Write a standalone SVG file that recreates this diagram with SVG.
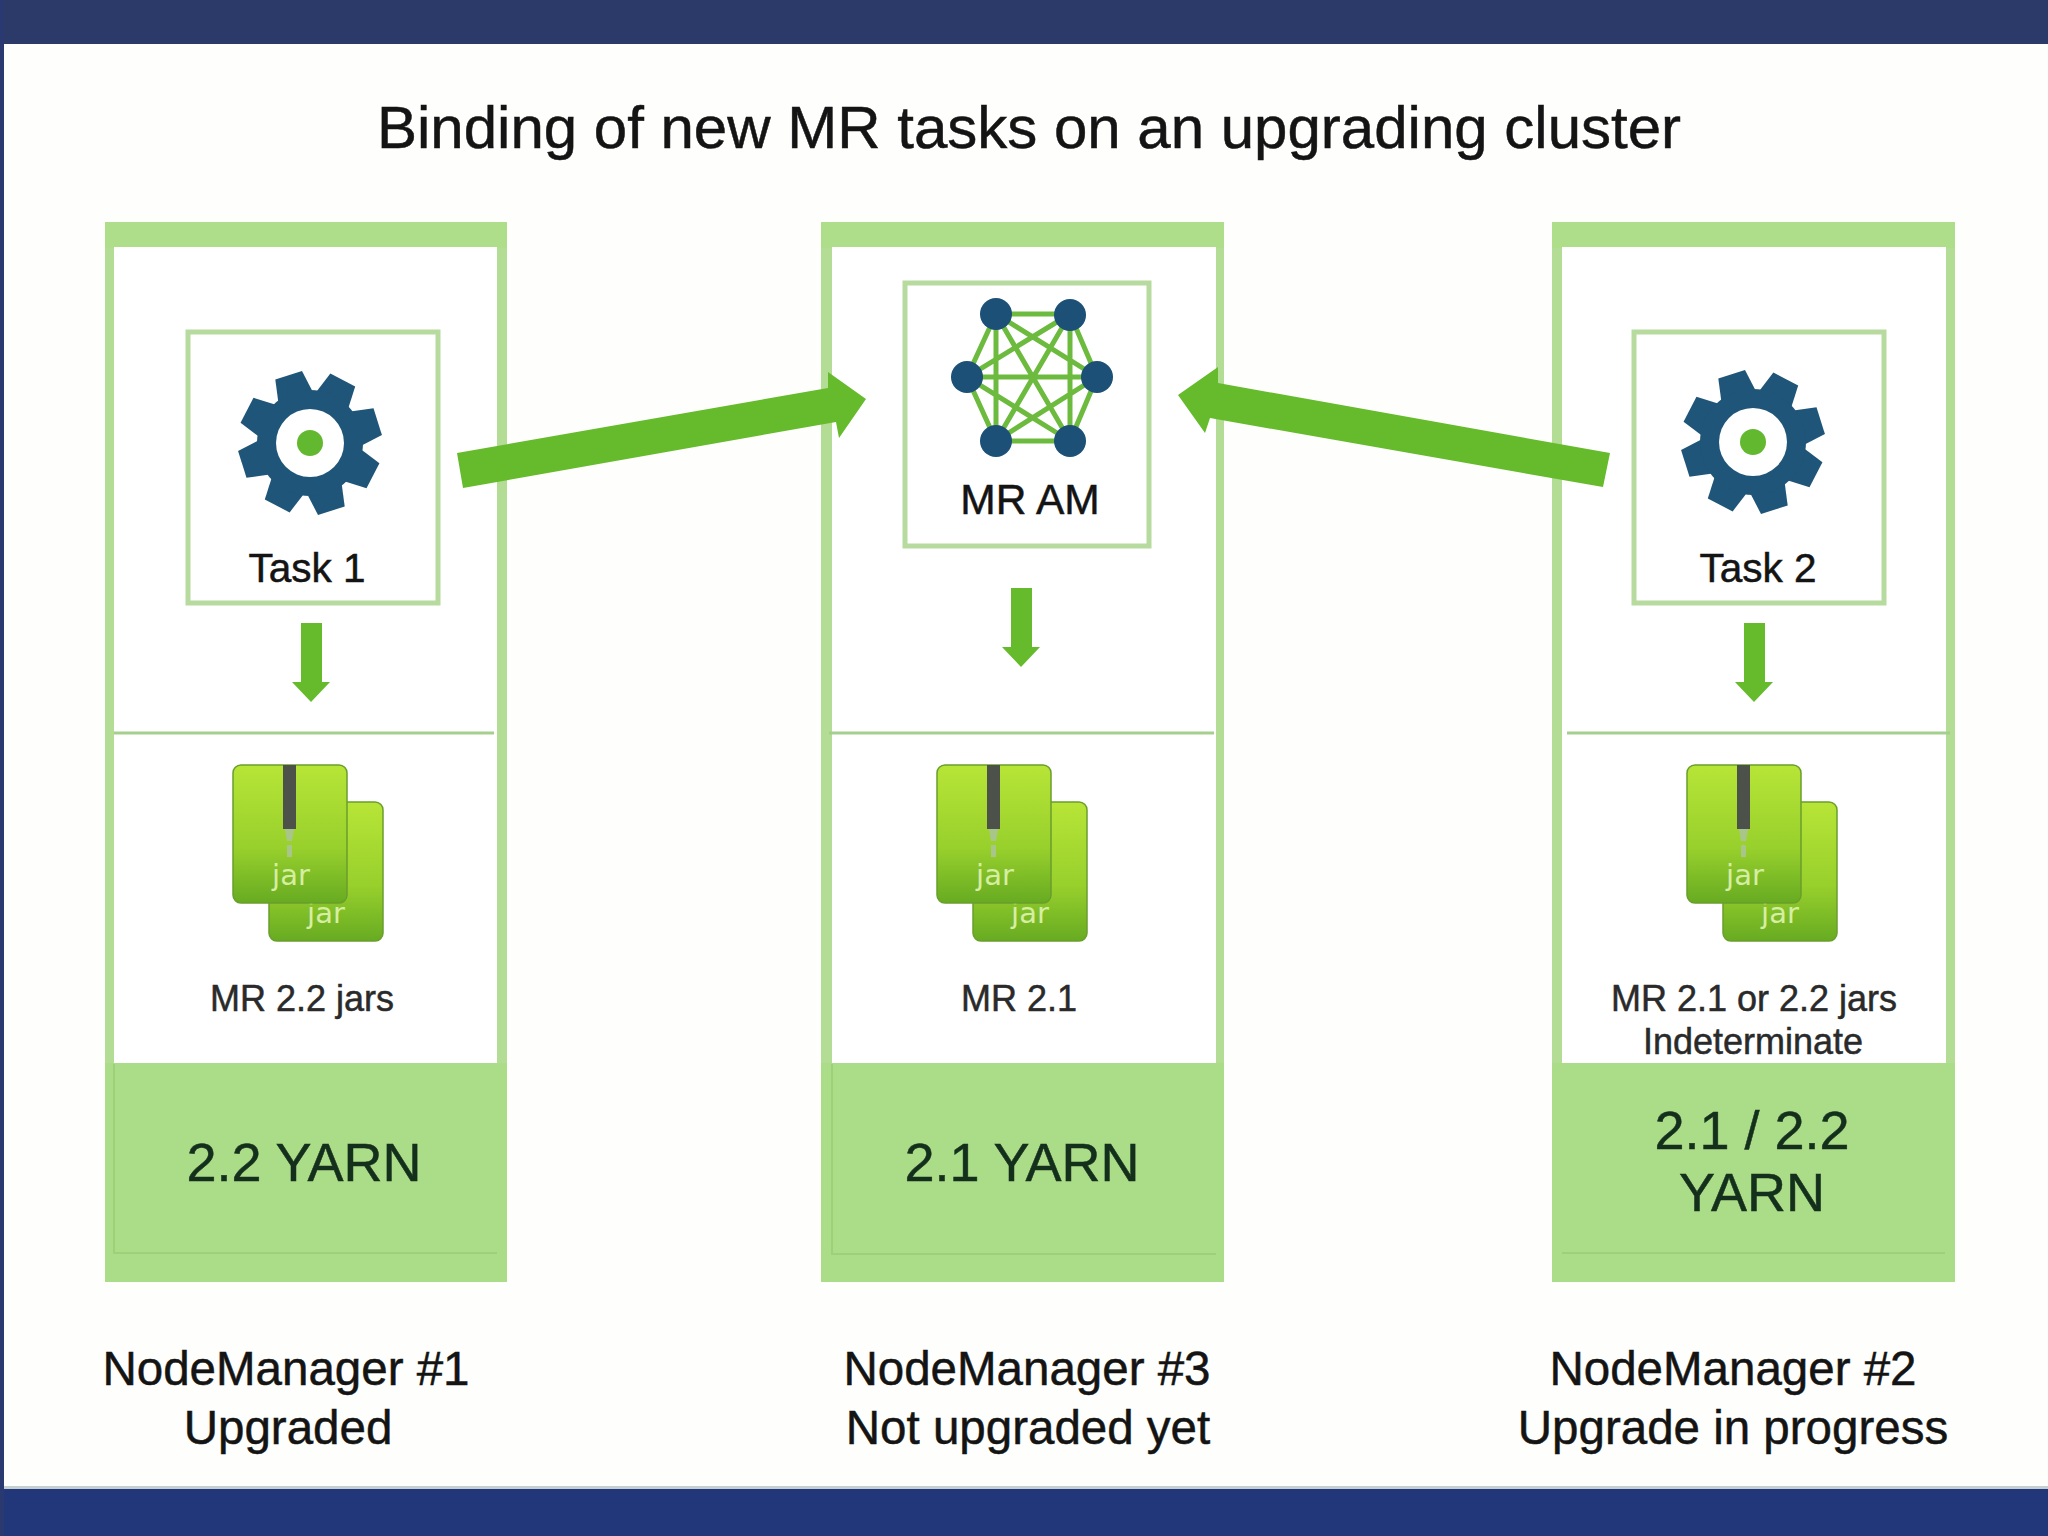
<svg xmlns="http://www.w3.org/2000/svg" xmlns:xlink="http://www.w3.org/1999/xlink" width="2048" height="1536" viewBox="0 0 2048 1536">
<style>
text{font-family:"Liberation Sans",Arial,sans-serif;fill:#141414;text-anchor:middle;stroke:#141414;stroke-width:.5}
.frame{fill:#b3dd94}
.top{fill:#aede8a}
.inner{fill:#ffffff}
.yarn{fill:#abdc88}
.yline{fill:none;stroke:#9ed07a;stroke-width:2}
.div{stroke:#a5cf8c;stroke-width:3;fill:none}
.box{fill:#fff;stroke:#b7db9f;stroke-width:5}
.lab{font-size:40.5px}
.jl{font-size:36px;fill:#2a2a2a;stroke:#2a2a2a}
.y{font-size:54px;fill:#14301c;stroke:#14301c}
.nm{font-size:47.5px}
.jt{font-family:"DejaVu Sans",sans-serif;font-size:29px;fill:#d6eea2;stroke:none}
.arr{fill:#65bb2b}
.net{stroke:#6dbb3e;stroke-width:5;fill:none}
.nd{fill:#1c5076}
</style>
<defs>
<linearGradient id="jg" x1="0" y1="0" x2="0" y2="1"><stop offset="0" stop-color="#b7e537"/><stop offset="0.6" stop-color="#98d02c"/><stop offset="1" stop-color="#67ab22"/></linearGradient>
<g id="gear">
<g fill="#1f5578">
<path d="M-18,-48L-14,-71L14,-71L18,-48Z" transform="rotate(-17.5)"/>
<path d="M-18,-48L-14,-71L14,-71L18,-48Z" transform="rotate(27.5)"/>
<path d="M-18,-48L-14,-71L14,-71L18,-48Z" transform="rotate(72.5)"/>
<path d="M-18,-48L-14,-71L14,-71L18,-48Z" transform="rotate(117.5)"/>
<path d="M-18,-48L-14,-71L14,-71L18,-48Z" transform="rotate(162.5)"/>
<path d="M-18,-48L-14,-71L14,-71L18,-48Z" transform="rotate(207.5)"/>
<path d="M-18,-48L-14,-71L14,-71L18,-48Z" transform="rotate(252.5)"/>
<path d="M-18,-48L-14,-71L14,-71L18,-48Z" transform="rotate(297.5)"/>
<circle r="53"/>
</g>
<circle r="34" fill="#fff"/>
<circle r="13" fill="#62b82f"/>
</g>
<g id="jarback">
<rect x="269" y="802" width="114" height="139" rx="8" fill="url(#jg)" stroke="#6a9e2c" stroke-width="1.5"/>
</g>
<g id="jarfront">
<rect x="233" y="765" width="114" height="138" rx="8" fill="url(#jg)" stroke="#6a9e2c" stroke-width="1.5"/>
<rect x="283" y="765" width="13" height="64" fill="#4c524a"/>
<path d="M285,829h9l-2,12h-5ZM287,845h5v12h-5Z" fill="#a9c68a"/>
</g>
</defs>

<rect id="backdrop-top" x="0" y="0" width="2048" height="45" fill="#2c3a69"/>
<rect id="backdrop-bottom" x="0" y="1488" width="2048" height="48" fill="#22367a"/>
<rect id="backdrop-left" x="0" y="0" width="4" height="1536" fill="#2a3a70"/>
<rect id="slide" x="4" y="44" width="2044" height="1444" fill="#fefffc"/>
<rect x="4" y="1486" width="2044" height="3" fill="#c5cfcf"/>

<text id="title" x="1029" y="148" font-size="60">Binding of new MR tasks on an upgrading cluster</text>

<g id="nodemanager-1">
<rect class="frame" x="105" y="222" width="402" height="1060"/>
<rect class="top" x="105" y="222" width="402" height="26"/>
<rect class="inner" x="114" y="247" width="383" height="816"/>
<rect class="yarn" x="105" y="1063" width="402" height="219"/>
<path class="yline" d="M114,1064V1253H497"/>
<path class="div" d="M114,733H494"/>
<text class="y" x="304" y="1181">2.2 YARN</text>
<text class="nm" x="286" y="1385">NodeManager #1</text>
<text class="nm" x="288" y="1444">Upgraded</text>
</g>
<g id="task-1">
<rect class="box" x="188" y="332" width="250" height="271"/>
<use xlink:href="#gear" href="#gear" transform="translate(310,443)"/>
<text class="lab" x="307" y="582">Task 1</text>
</g>
<g id="jars-1">
<use xlink:href="#jarback" href="#jarback"/>
<text class="jt" x="326" y="923">jar</text>
<use xlink:href="#jarfront" href="#jarfront"/>
<text class="jt" x="291" y="885">jar</text>
<text class="jl" x="302" y="1011">MR 2.2 jars</text>
</g>

<g id="nodemanager-3">
<rect class="frame" x="821" y="222" width="403" height="1060"/>
<rect class="top" x="821" y="222" width="403" height="26"/>
<rect class="inner" x="832" y="247" width="384" height="816"/>
<rect class="yarn" x="821" y="1063" width="403" height="219"/>
<path class="yline" d="M832,1064V1254H1216"/>
<path class="div" d="M829,733H1214"/>
<text class="y" x="1022" y="1181">2.1 YARN</text>
<text class="nm" x="1027" y="1385">NodeManager #3</text>
<text class="nm" x="1028" y="1444">Not upgraded yet</text>
</g>
<g id="mr-am">
<rect class="box" x="905" y="283" width="244" height="263"/>
<path class="net" d="M996,314L1070,314L1097,377L1070,441L996,441L967,377ZM996,314L1097,377L996,441L1070,314L967,377L1070,441L996,314ZM996,314V441M1070,314V441M967,377H1097"/>
<g class="nd">
<circle cx="996" cy="314" r="16"/><circle cx="1070" cy="315" r="16"/>
<circle cx="967" cy="377" r="16"/><circle cx="1097" cy="377" r="16"/>
<circle cx="996" cy="441" r="16"/><circle cx="1070" cy="441" r="16"/>
</g>
<text x="1030" y="514" font-size="42.5">MR AM</text>
</g>
<g id="jars-3">
<use xlink:href="#jarback" href="#jarback" x="704"/>
<text class="jt" x="1030" y="923">jar</text>
<use xlink:href="#jarfront" href="#jarfront" x="704"/>
<text class="jt" x="995" y="885">jar</text>
<text class="jl" x="1019" y="1011">MR 2.1</text>
</g>

<g id="nodemanager-2">
<rect class="frame" x="1552" y="222" width="403" height="1060"/>
<rect class="top" x="1552" y="222" width="403" height="26"/>
<rect class="inner" x="1562" y="247" width="384" height="816"/>
<rect class="yarn" x="1552" y="1063" width="403" height="219"/>
<path class="yline" d="M1562,1253H1945"/>
<path class="div" d="M1567,733H1950"/>
<text class="y" x="1752" y="1149">2.1 / 2.2</text>
<text class="y" x="1752" y="1211">YARN</text>
<text class="nm" x="1733" y="1385">NodeManager #2</text>
<text class="nm" x="1733" y="1444">Upgrade in progress</text>
</g>
<g id="task-2">
<rect class="box" x="1634" y="332" width="250" height="271"/>
<use xlink:href="#gear" href="#gear" transform="translate(1753,442)"/>
<text class="lab" x="1758" y="582">Task 2</text>
</g>
<g id="jars-2">
<use xlink:href="#jarback" href="#jarback" x="1454"/>
<text class="jt" x="1780" y="923">jar</text>
<use xlink:href="#jarfront" href="#jarfront" x="1454"/>
<text class="jt" x="1745" y="885">jar</text>
<text class="jl" x="1754" y="1011">MR 2.1 or 2.2 jars</text>
<text class="jl" x="1753" y="1054">Indeterminate</text>
</g>

<g id="connectors">
<polygon class="arr" points="457,453 463,488 836,422 839,438 866,399 828,372 828,388"/>
<polygon class="arr" points="1610,453 1603,487 1210,418 1205,433 1178,395 1218,367 1218,383"/>
<polygon class="arr" points="301,623 322,623 322,682 330,682 311,702 292,682 301,682"/>
<polygon class="arr" points="1011,588 1032,588 1032,647 1040,647 1021,667 1002,647 1011,647"/>
<polygon class="arr" points="1744,623 1765,623 1765,682 1773,682 1754,702 1735,682 1744,682"/>
</g>
</svg>
